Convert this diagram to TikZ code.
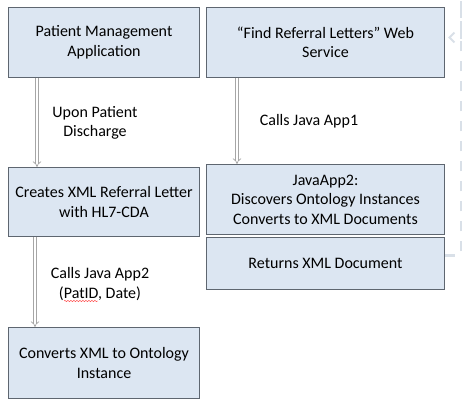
\documentclass[tikz,border=0pt]{standalone}
\usepackage{fontspec}
\setmainfont{Carlito}
\usetikzlibrary{arrows.meta,calc,decorations.pathmorphing}
\definecolor{boxfill}{HTML}{DCE6F2}
\definecolor{boxline}{HTML}{5E6670}
\definecolor{faint}{HTML}{D9E0E8}
\tikzset{
  box/.style={draw=boxline, line width=1pt, fill=boxfill, align=center, font=\fontsize{16}{19.5}\selectfont, inner sep=0pt, anchor=north west},
  lbl/.style={align=center, font=\fontsize{16}{19.5}\selectfont, inner sep=0pt},
  flow/.style={draw=gray!70, line width=0.7pt, double=white, double distance=2.2pt, -{Implies[length=3pt]}},
  back/.style={draw=faint, line width=2.5pt, dash pattern=on 10pt off 10pt, -{Straight Barb[length=5pt,width=10pt,line width=2pt]}}
}
\begin{document}
\begin{tikzpicture}[x=1pt,y=-1pt]
\useasboundingbox (0,0) rectangle (474,403);
\node[box, minimum width=191pt, minimum height=70pt] (pm) at (8,7) {Patient Management\\Application};
\node[box, minimum width=238pt, minimum height=70pt] (fr) at (206,7) {“Find Referral Letters” Web\\Service};
\node[box, minimum width=191pt, minimum height=69pt] (cx) at (8,167) {Creates XML Referral Letter\\with HL7-CDA};
\node[box, minimum width=238pt, minimum height=70pt] (ja) at (206,164) {JavaApp2:\\Discovers Ontology Instances\\Converts to XML Documents};
\node[box, minimum width=238pt, minimum height=52pt] (rx) at (206,237) {Returns XML Document};
\node[box, minimum width=191pt, minimum height=71pt] (co) at (8,327) {Converts XML to Ontology\\Instance};
\draw[flow] ([xshift=29pt]pm.south west) -- ([xshift=29pt]cx.north west);
\draw[flow] ([xshift=31pt]fr.south west) -- ([xshift=31pt]ja.north west);
\draw[flow] ([xshift=27pt]cx.south west) -- ([xshift=27pt]co.north west);
\node[lbl] (l1) at (95,123) {Upon Patient\\Discharge};
\node[lbl] (l2) at (309,121) {Calls Java App1};
\node[lbl] (l3) at (100,284) {Calls Java App2\\(PatID, Date)};
\coordinate (sq1) at (64,301);
\coordinate (sq2) at (98,301);
\draw[red!80, line width=0.4pt, decorate, decoration={snake, amplitude=0.6pt, segment length=3pt}] (sq1) -- (sq2);
\coordinate (dx) at (461,0);
\draw[back] ([yshift=8pt]rx.east) -| (dx) |- ([yshift=5pt,xshift=3pt]fr.east);
\end{tikzpicture}
\end{document}
